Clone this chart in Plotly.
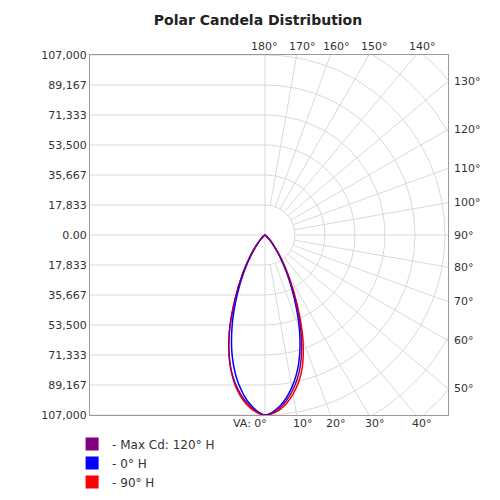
import numpy as np
import plotly.graph_objects as go

# vertical angles (deg from nadir) and candela values per half-plane
angles = [0, 5, 10, 15, 20, 25, 30, 35, 40, 45, 50, 60, 70, 80, 90]
max_left = [107000, 102000, 93000, 80000, 62000, 42000, 26500, 15000, 7500, 3700, 1500, 300, 50, 0, 0]
max_right = [107000, 103000, 94000, 81000, 63000, 43000, 27000, 15500, 7800, 3800, 1500, 300, 50, 0, 0]
h0_left = [107000, 101000, 90000, 75000, 57000, 39000, 24500, 14000, 7000, 3500, 1500, 300, 50, 0, 0]
h0_right = [107000, 102000, 92000, 78000, 60000, 41000, 26000, 15000, 7500, 3700, 1500, 300, 50, 0, 0]
h90_left = [107000, 103000, 94000, 80000, 62000, 42000, 26000, 15000, 7500, 3700, 1500, 300, 50, 0, 0]
h90_right = [107000, 104000, 96000, 84000, 66000, 45000, 28000, 16000, 8000, 4000, 1500, 300, 50, 0, 0]

series = [
    ('- Max Cd: 120° H', '#800080', max_left, max_right),
    ('- 0° H', '#0000ff', h0_left, h0_right),
    ('- 90° H', '#ff0000', h90_left, h90_right),
]

ytick_vals = [107000, 89167, 71333, 53500, 35667, 17833, 0, -17833, -35667, -53500, -71333, -89167, -107000]
ytick_text = ['107,000', '89,167', '71,333', '53,500', '35,667', '17,833', '0.00',
              '17,833', '35,667', '53,500', '71,333', '89,167', '107,000']

RMAX = 107000
XMIN, XMAX = -104000, 108800
step = 17833
grid = '#d9d9d9'

fig = go.Figure()

# grid: horizontal lines on left half
for v in ytick_vals:
    fig.add_trace(go.Scatter(x=[XMIN, 0], y=[v, v], mode='lines', line=dict(color=grid, width=1),
                             hoverinfo='skip', showlegend=False))
fig.add_trace(go.Scatter(x=[0, 0], y=[-RMAX, RMAX], mode='lines', line=dict(color=grid, width=1),
                         hoverinfo='skip', showlegend=False))

# grid: half circles on right
t = np.radians(np.linspace(0, 180, 181))
for k in range(1, 10):
    r = k * step
    fig.add_trace(go.Scatter(x=r * np.sin(t), y=-r * np.cos(t), mode='lines',
                             line=dict(color=grid, width=1), hoverinfo='skip', showlegend=False))

# grid: radial lines every 10 deg
for a in range(10, 180, 10):
    ar = np.radians(a)
    fig.add_trace(go.Scatter(x=[step * np.sin(ar), 3 * RMAX * np.sin(ar)],
                             y=[-step * np.cos(ar), -3 * RMAX * np.cos(ar)], mode='lines',
                             line=dict(color=grid, width=1), hoverinfo='skip', showlegend=False))

# angle labels
ann = []
for a in range(10, 180, 10):
    ar = np.radians(a)
    s, c = np.sin(ar), -np.cos(ar)
    if a < 45:
        x, y = RMAX * np.tan(ar), -RMAX
        ann.append(dict(x=x, y=y, text=f'{a}°', showarrow=False, yanchor='top', xanchor='center', xshift=6))
    elif a > 135:
        x, y = RMAX * np.tan(np.pi - ar), RMAX
        ann.append(dict(x=x, y=y, text=f'{a}°', showarrow=False, yanchor='bottom', xanchor='center', xshift=6))
    else:
        y = XMAX * c / s
        ann.append(dict(x=XMAX, y=y, text=f'{a}°', showarrow=False, xanchor='left', xshift=4))
ann.append(dict(x=0, y=RMAX, text='180°', showarrow=False, yanchor='bottom', xanchor='center'))
ann.append(dict(x=0, y=-RMAX, text='VA: 0°', showarrow=False, yanchor='top', xanchor='right', xshift=4))

# candela curves (drawn red, blue, then purple on top)
ang = np.radians(angles)
for name, color, left, right in series[::-1]:
    left = np.array(left)
    right = np.array(right)
    xs = np.concatenate([-(left * np.sin(ang))[::-1], (right * np.sin(ang))[1:]])
    ys = np.concatenate([-(left * np.cos(ang))[::-1], -(right * np.cos(ang))[1:]])
    fig.add_trace(go.Scatter(x=xs, y=ys, mode='lines', line=dict(color=color, width=1.5, shape='spline'),
                             showlegend=False, name=name))
for name, color, left, right in series:
    fig.add_trace(go.Scatter(x=[None], y=[None], mode='markers', name=name,
                             marker=dict(symbol='square', size=13, color=color)))

fig.update_layout(
    width=500, height=500,
    margin=dict(l=82, r=60, t=47, b=93, autoexpand=False),
    plot_bgcolor='white', paper_bgcolor='white',
    font=dict(family='DejaVu Sans', size=11, color='#333333'),
    title=dict(text='<b>Polar Candela Distribution</b>', x=0.5, y=0.985, yanchor='top',
               font=dict(size=14, color='#222222')),
    xaxis=dict(range=[XMIN, XMAX], showgrid=False, zeroline=False, showticklabels=False,
               showline=True, linecolor='#999999', mirror=True, automargin=False),
    yaxis=dict(range=[-RMAX, RMAX], tickvals=ytick_vals, ticktext=ytick_text, showgrid=False,
               zeroline=False, showline=True, linecolor='#999999', mirror=True, ticks='',
               automargin=False),
    annotations=ann,
    showlegend=True,
    legend=dict(x=-0.05, y=-0.04, yanchor='top', xanchor='left', tracegroupgap=0,
                font=dict(size=12), itemwidth=30),
)

fig.write_html("out.html")
